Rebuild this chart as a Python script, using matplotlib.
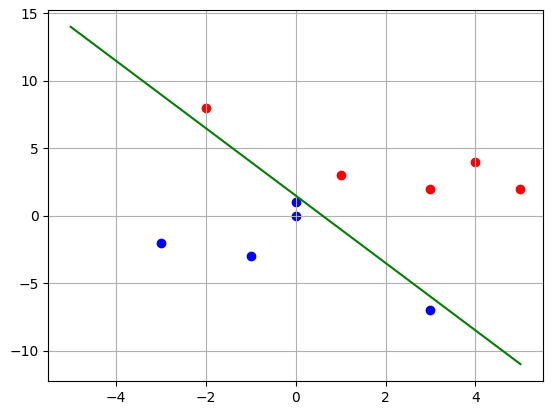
import matplotlib
matplotlib.use("Agg")
import matplotlib.pyplot as plt

# class 1 (red) and class 0 (blue) points
red_x = [-2, 1, 3, 4, 5]
red_y = [8, 3, 2, 4, 2]
blue_x = [-3, -1, 0, 0, 3]
blue_y = [-2, -3, 1, 0, -7]

# decision boundary endpoints
line_x = [-5, 5]
line_y = [14, -11]

fig, ax = plt.subplots(figsize=(5.54, 4.15), dpi=100)
fig.subplots_adjust(left=0.087, right=0.98, top=0.976, bottom=0.082)
ax.scatter(red_x, red_y, color="red")
ax.scatter(blue_x, blue_y, color="blue")
ax.plot(line_x, line_y, color="green")
ax.grid(True)
fig.savefig("out.png", dpi=100)
